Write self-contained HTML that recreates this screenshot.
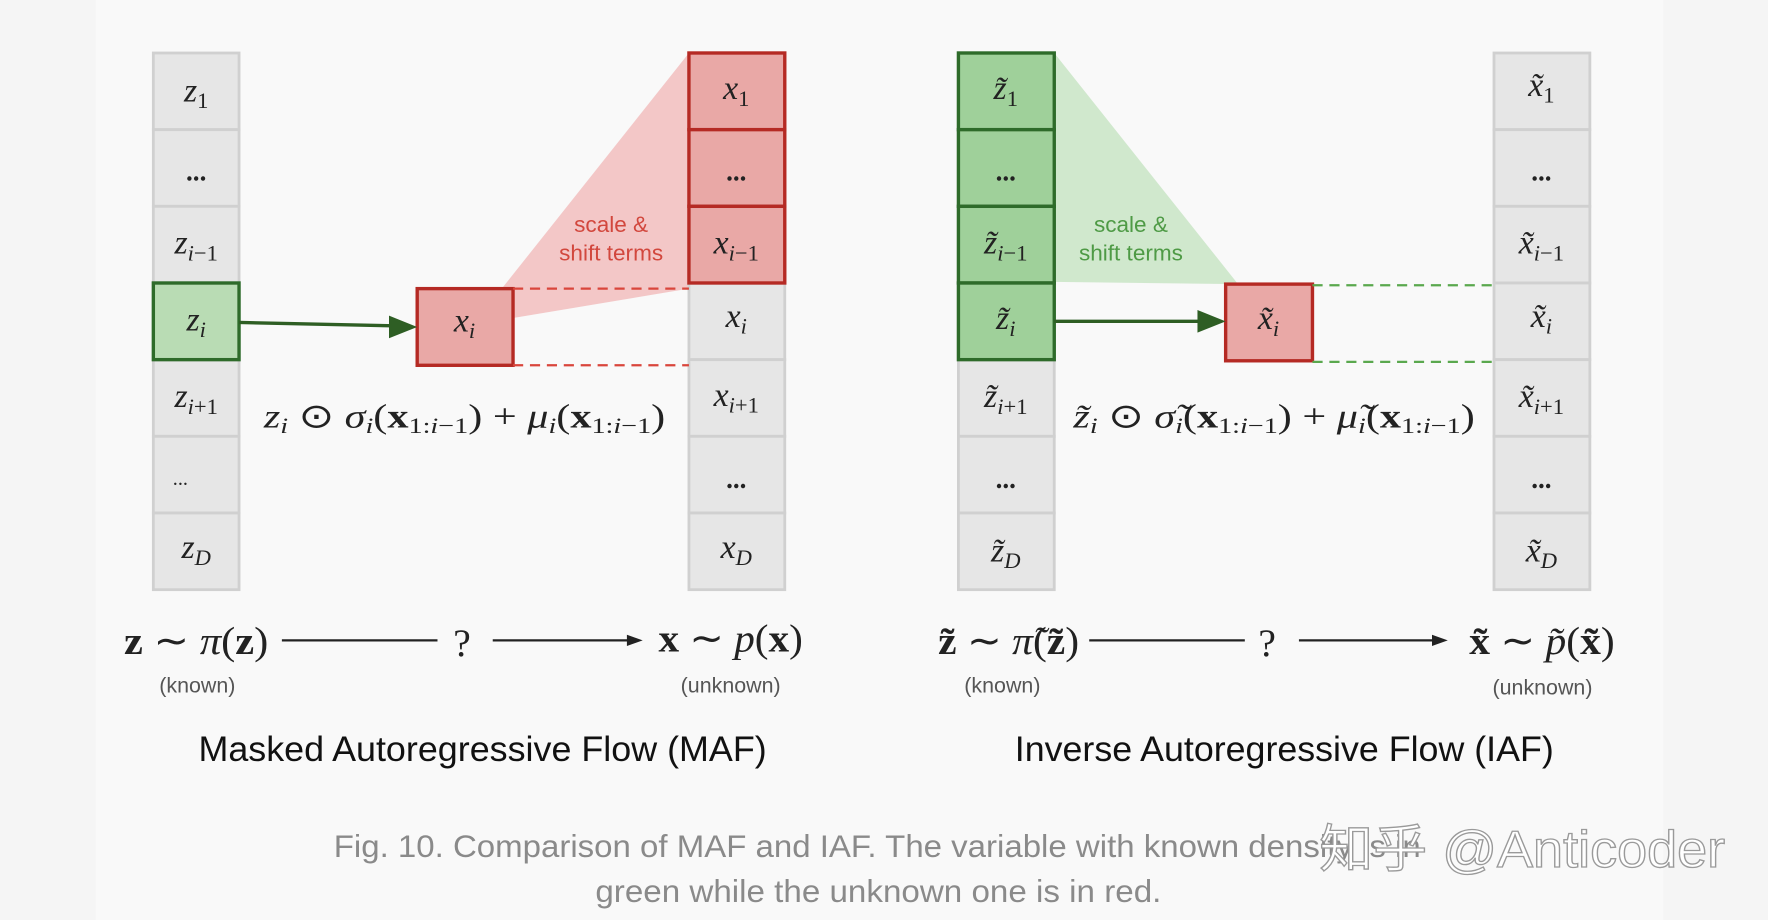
<!DOCTYPE html>
<html><head><meta charset="utf-8"><style>
html,body{margin:0;padding:0;background:#f6f6f6;}
svg{display:block}
.m{font-family:"Liberation Serif",serif;font-style:italic;fill:#222}
.s{font-family:"Liberation Sans",sans-serif}
</style></head><body>
<svg width="1768" height="920" viewBox="0 0 1568 816" preserveAspectRatio="none" xmlns="http://www.w3.org/2000/svg">
<rect x="0" y="0" width="1568" height="816" fill="#f5f5f5"/>
<rect x="85" y="0" width="1390" height="816" fill="#f9f9f9"/>
<polygon points="445,256 611,47 611,256 455,282" fill="#f0b5b5" opacity="0.75"/>
<polygon points="935,47 1098,252 935,250" fill="#c6e4c2" opacity="0.8"/>
<g stroke-width="2.5">
<rect x="136" y="47" width="76" height="68" fill="#e6e6e6" stroke="#d0d0d0"/>
<rect x="136" y="115" width="76" height="68" fill="#e6e6e6" stroke="#d0d0d0"/>
<rect x="136" y="183" width="76" height="68" fill="#e6e6e6" stroke="#d0d0d0"/>
<rect x="136" y="319" width="76" height="68" fill="#e6e6e6" stroke="#d0d0d0"/>
<rect x="136" y="387" width="76" height="68" fill="#e6e6e6" stroke="#d0d0d0"/>
<rect x="136" y="455" width="76" height="68" fill="#e6e6e6" stroke="#d0d0d0"/>
<rect x="136" y="251" width="76" height="68" fill="#b9dcb4" stroke="#2e6b2a" stroke-width="3"/>
<rect x="611" y="251" width="85" height="68" fill="#e6e6e6" stroke="#d0d0d0"/>
<rect x="611" y="319" width="85" height="68" fill="#e6e6e6" stroke="#d0d0d0"/>
<rect x="611" y="387" width="85" height="68" fill="#e6e6e6" stroke="#d0d0d0"/>
<rect x="611" y="455" width="85" height="68" fill="#e6e6e6" stroke="#d0d0d0"/>
<rect x="611" y="47" width="85" height="68" fill="#e9a8a6" stroke="#b52a24" stroke-width="3"/>
<rect x="611" y="115" width="85" height="68" fill="#e9a8a6" stroke="#b52a24" stroke-width="3"/>
<rect x="611" y="183" width="85" height="68" fill="#e9a8a6" stroke="#b52a24" stroke-width="3"/>
<rect x="370" y="256" width="85" height="68" fill="#e9a8a6" stroke="#b52a24" stroke-width="3"/>
<rect x="850" y="319" width="85" height="68" fill="#e6e6e6" stroke="#d0d0d0"/>
<rect x="850" y="387" width="85" height="68" fill="#e6e6e6" stroke="#d0d0d0"/>
<rect x="850" y="455" width="85" height="68" fill="#e6e6e6" stroke="#d0d0d0"/>
<rect x="850" y="47" width="85" height="68" fill="#9fd09a" stroke="#2e6b2a" stroke-width="3"/>
<rect x="850" y="115" width="85" height="68" fill="#9fd09a" stroke="#2e6b2a" stroke-width="3"/>
<rect x="850" y="183" width="85" height="68" fill="#9fd09a" stroke="#2e6b2a" stroke-width="3"/>
<rect x="850" y="251" width="85" height="68" fill="#9fd09a" stroke="#2e6b2a" stroke-width="3"/>
<rect x="1325" y="47" width="85" height="68" fill="#e6e6e6" stroke="#d0d0d0"/>
<rect x="1325" y="115" width="85" height="68" fill="#e6e6e6" stroke="#d0d0d0"/>
<rect x="1325" y="183" width="85" height="68" fill="#e6e6e6" stroke="#d0d0d0"/>
<rect x="1325" y="251" width="85" height="68" fill="#e6e6e6" stroke="#d0d0d0"/>
<rect x="1325" y="319" width="85" height="68" fill="#e6e6e6" stroke="#d0d0d0"/>
<rect x="1325" y="387" width="85" height="68" fill="#e6e6e6" stroke="#d0d0d0"/>
<rect x="1325" y="455" width="85" height="68" fill="#e6e6e6" stroke="#d0d0d0"/>
<rect x="1087" y="252" width="77" height="68" fill="#e9a8a6" stroke="#b52a24" stroke-width="3"/>
</g>
<line x1="212" y1="286" x2="350" y2="289" stroke="#2e5e24" stroke-width="3"/>
<polygon points="370,290 345,280 345,300" fill="#2e5e24"/>
<line x1="935" y1="285" x2="1065" y2="285" stroke="#2e5e24" stroke-width="3"/>
<polygon points="1087,285 1062,275 1062,295" fill="#2e5e24"/>
<g stroke-width="2" stroke-dasharray="9,6">
<line x1="455" y1="256" x2="611" y2="256" stroke="#d9463c"/>
<line x1="455" y1="324" x2="611" y2="324" stroke="#d9463c"/>
<line x1="1164" y1="253" x2="1325" y2="253" stroke="#5aa84e"/>
<line x1="1164" y1="321" x2="1325" y2="321" stroke="#5aa84e"/>
</g>
<g class="m" font-size="30" text-anchor="middle">
<text x="174" y="90">z<tspan font-size="20" dy="6" font-style="normal">1</tspan></text>
<text x="174" y="160" font-style="normal" font-weight="bold" font-size="24">...</text>
<text x="174" y="225">z<tspan font-size="20" dy="6">i</tspan><tspan font-size="20" font-style="normal">−1</tspan></text>
<text x="174" y="293">z<tspan font-size="20" dy="6">i</tspan></text>
<text x="174" y="361">z<tspan font-size="20" dy="6">i</tspan><tspan font-size="20" font-style="normal">+1</tspan></text>
<text x="160" y="430" font-style="normal" font-size="18">...</text>
<text x="174" y="495">z<tspan font-size="20" dy="6">D</tspan></text>
<text x="653" y="88">x<tspan font-size="20" dy="6" font-style="normal">1</tspan></text>
<text x="653" y="160" font-style="normal" font-weight="bold" font-size="24">...</text>
<text x="653" y="225">x<tspan font-size="20" dy="6">i</tspan><tspan font-size="20" font-style="normal">−1</tspan></text>
<text x="653" y="290">x<tspan font-size="20" dy="6">i</tspan></text>
<text x="653" y="360">x<tspan font-size="20" dy="6">i</tspan><tspan font-size="20" font-style="normal">+1</tspan></text>
<text x="653" y="433" font-style="normal" font-weight="bold" font-size="24">...</text>
<text x="653" y="495">x<tspan font-size="20" dy="6">D</tspan></text>
<text x="412" y="294">x<tspan font-size="20" dy="6">i</tspan></text>
<text x="892" y="88">z̃<tspan font-size="20" dy="6" font-style="normal">1</tspan></text>
<text x="892" y="160" font-style="normal" font-weight="bold" font-size="24">...</text>
<text x="892" y="225">z̃<tspan font-size="20" dy="6">i</tspan><tspan font-size="20" font-style="normal">−1</tspan></text>
<text x="892" y="292">z̃<tspan font-size="20" dy="6">i</tspan></text>
<text x="892" y="361">z̃<tspan font-size="20" dy="6">i</tspan><tspan font-size="20" font-style="normal">+1</tspan></text>
<text x="892" y="433" font-style="normal" font-weight="bold" font-size="24">...</text>
<text x="892" y="498">z̃<tspan font-size="20" dy="6">D</tspan></text>
<text x="1367" y="85">x̃<tspan font-size="20" dy="6" font-style="normal">1</tspan></text>
<text x="1367" y="160" font-style="normal" font-weight="bold" font-size="24">...</text>
<text x="1367" y="225">x̃<tspan font-size="20" dy="6">i</tspan><tspan font-size="20" font-style="normal">−1</tspan></text>
<text x="1367" y="290">x̃<tspan font-size="20" dy="6">i</tspan></text>
<text x="1367" y="361">x̃<tspan font-size="20" dy="6">i</tspan><tspan font-size="20" font-style="normal">+1</tspan></text>
<text x="1367" y="433" font-style="normal" font-weight="bold" font-size="24">...</text>
<text x="1367" y="498">x̃<tspan font-size="20" dy="6">D</tspan></text>
<text x="1125" y="292">x̃<tspan font-size="20" dy="6">i</tspan></text>
</g>
<g class="m" font-size="30">
<text x="234" y="379" textLength="356" lengthAdjust="spacingAndGlyphs">z<tspan font-size="20" dy="5">i</tspan><tspan dy="-5" font-style="normal"> ⊙ </tspan>σ<tspan font-size="20" dy="5">i</tspan><tspan dy="-5" font-style="normal">(</tspan><tspan font-style="normal" font-weight="bold">x</tspan><tspan font-size="20" dy="5" font-style="normal">1:</tspan><tspan font-size="20">i</tspan><tspan font-size="20" font-style="normal">−1</tspan><tspan dy="-5" font-style="normal">) + </tspan>μ<tspan font-size="20" dy="5">i</tspan><tspan dy="-5" font-style="normal">(</tspan><tspan font-style="normal" font-weight="bold">x</tspan><tspan font-size="20" dy="5" font-style="normal">1:</tspan><tspan font-size="20">i</tspan><tspan font-size="20" font-style="normal">−1</tspan><tspan dy="-5" font-style="normal">)</tspan></text>
<text x="952" y="379" textLength="356" lengthAdjust="spacingAndGlyphs">z̃<tspan font-size="20" dy="5">i</tspan><tspan dy="-5" font-style="normal"> ⊙ </tspan>σ̃<tspan font-size="20" dy="5">i</tspan><tspan dy="-5" font-style="normal">(</tspan><tspan font-style="normal" font-weight="bold">x</tspan><tspan font-size="20" dy="5" font-style="normal">1:</tspan><tspan font-size="20">i</tspan><tspan font-size="20" font-style="normal">−1</tspan><tspan dy="-5" font-style="normal">) + </tspan>μ̃<tspan font-size="20" dy="5">i</tspan><tspan dy="-5" font-style="normal">(</tspan><tspan font-style="normal" font-weight="bold">x</tspan><tspan font-size="20" dy="5" font-style="normal">1:</tspan><tspan font-size="20">i</tspan><tspan font-size="20" font-style="normal">−1</tspan><tspan dy="-5" font-style="normal">)</tspan></text>
</g>
<g class="s" font-size="20" text-anchor="middle">
<text x="542" y="206" fill="#d2473d">scale &amp;</text>
<text x="542" y="231" fill="#d2473d">shift terms</text>
<text x="1003" y="206" fill="#4e9a45">scale &amp;</text>
<text x="1003" y="231" fill="#4e9a45">shift terms</text>
</g>
<g class="m" font-size="35" fill="#222">
<text x="110" y="580" textLength="128" lengthAdjust="spacingAndGlyphs"><tspan font-style="normal" font-weight="bold">z</tspan><tspan font-style="normal"> ∼ </tspan>π<tspan font-style="normal">(</tspan><tspan font-style="normal" font-weight="bold">z</tspan><tspan font-style="normal">)</tspan></text>
<text x="402" y="582" font-style="normal">?</text>
<text x="584" y="578" textLength="128" lengthAdjust="spacingAndGlyphs"><tspan font-style="normal" font-weight="bold">x</tspan><tspan font-style="normal"> ∼ </tspan>p<tspan font-style="normal">(</tspan><tspan font-style="normal" font-weight="bold">x</tspan><tspan font-style="normal">)</tspan></text>
<text x="832" y="580" textLength="125" lengthAdjust="spacingAndGlyphs"><tspan font-style="normal" font-weight="bold">z̃</tspan><tspan font-style="normal"> ∼ </tspan>π̃<tspan font-style="normal">(</tspan><tspan font-style="normal" font-weight="bold">z̃</tspan><tspan font-style="normal">)</tspan></text>
<text x="1116" y="582" font-style="normal">?</text>
<text x="1303" y="580" textLength="129" lengthAdjust="spacingAndGlyphs"><tspan font-style="normal" font-weight="bold">x̃</tspan><tspan font-style="normal"> ∼ </tspan>p̃<tspan font-style="normal">(</tspan><tspan font-style="normal" font-weight="bold">x̃</tspan><tspan font-style="normal">)</tspan></text>
</g>
<g stroke="#222" stroke-width="2">
<line x1="250" y1="568" x2="388" y2="568"/>
<line x1="437" y1="568" x2="558" y2="568"/>
<line x1="966" y1="568" x2="1104" y2="568"/>
<line x1="1152" y1="568" x2="1272" y2="568"/>
</g>
<polygon points="570,568 556,563 556,573" fill="#222"/>
<polygon points="1284,568 1270,563 1270,573" fill="#222"/>
<g class="s" font-size="19" fill="#555" text-anchor="middle">
<text x="175" y="614">(known)</text>
<text x="648" y="614">(unknown)</text>
<text x="889" y="614">(known)</text>
<text x="1368" y="616">(unknown)</text>
</g>
<g class="s" font-size="31" fill="#111">
<text x="176" y="675" textLength="504" lengthAdjust="spacingAndGlyphs">Masked Autoregressive Flow (MAF)</text>
<text x="900" y="675" textLength="478" lengthAdjust="spacingAndGlyphs">Inverse Autoregressive Flow (IAF)</text>
</g>
<g class="s" font-size="28" fill="#8a8a8a">
<text x="296" y="760" textLength="964" lengthAdjust="spacingAndGlyphs">Fig. 10. Comparison of MAF and IAF. The variable with known density is in</text>
<text x="528" y="800" textLength="502" lengthAdjust="spacingAndGlyphs">green while the unknown one is in red.</text>
</g>
<text x="1170" y="769" textLength="360" lengthAdjust="spacingAndGlyphs" font-family="'Liberation Sans','Noto Sans CJK SC',sans-serif" font-size="46" fill="#ffffff" stroke="#9a9a9a" stroke-width="1.2">知乎 @Anticoder</text>
</svg>
</body></html>
